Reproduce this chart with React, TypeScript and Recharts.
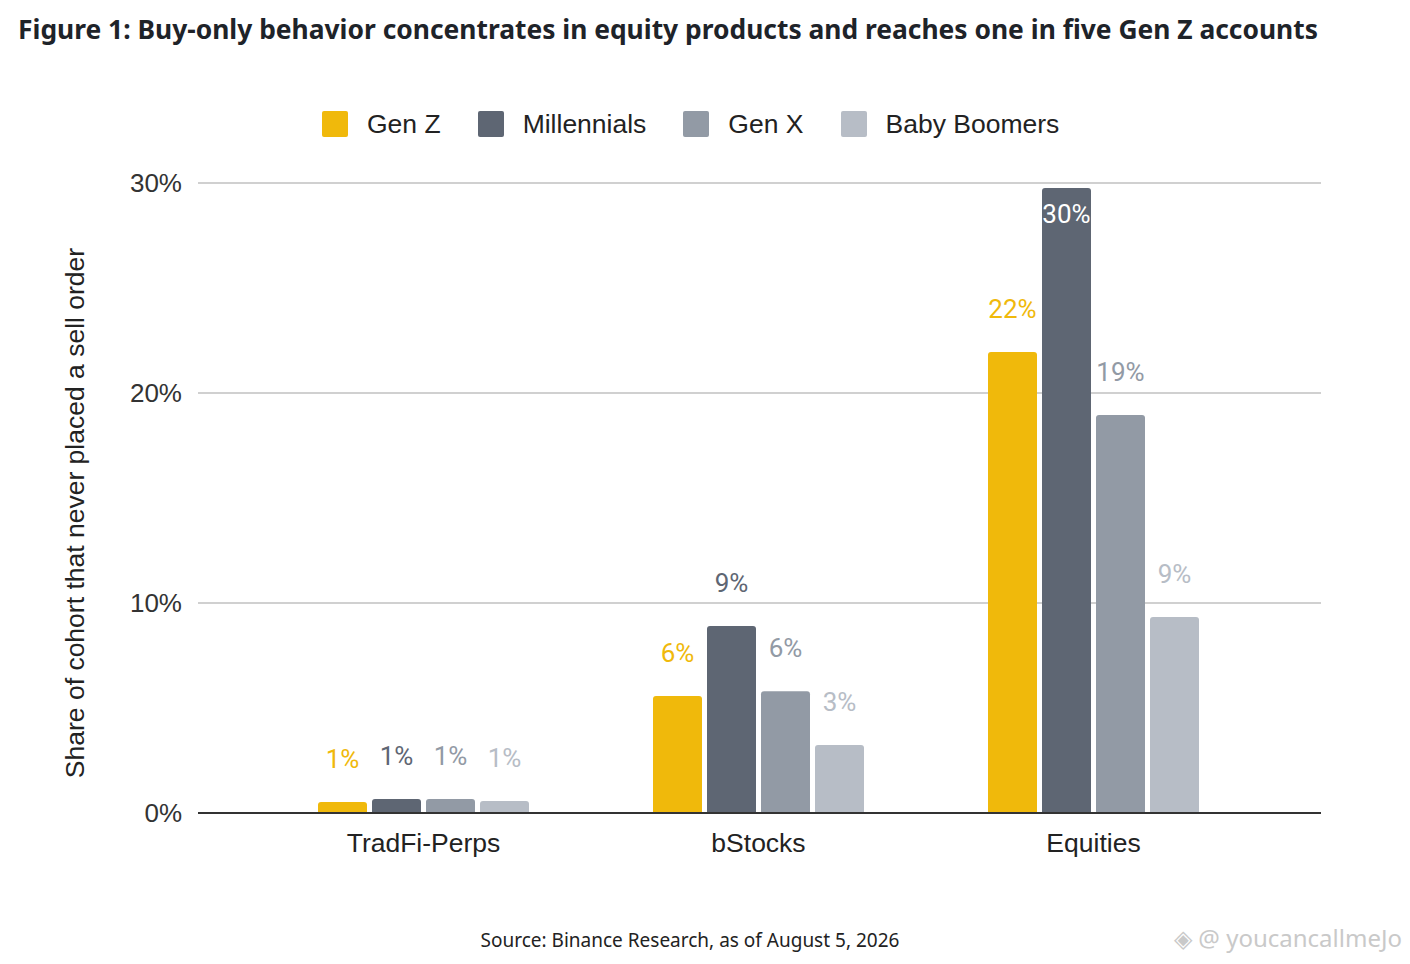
import { BarChart, Bar, XAxis, YAxis, CartesianGrid, LabelList, ReferenceLine } from 'recharts';

const categories = ['TradFi-Perps', 'bStocks', 'Equities'];
const genZ = [0.52, 5.57, 21.95];
const millennials = [0.67, 8.9, 29.76];
const genX = [0.67, 5.8, 18.95];
const boomers = [0.57, 3.24, 9.33];
const yTicks = [0, 10, 20, 30];

const series = [
    { key: 'genZ', name: 'Gen Z', color: '#F0B90B', labelColor: '#F0B90B' },
    { key: 'millennials', name: 'Millennials', color: '#5E6673', labelColor: '#5E6673' },
    { key: 'genX', name: 'Gen X', color: '#929AA5', labelColor: '#929AA5' },
    { key: 'boomers', name: 'Baby Boomers', color: '#B7BDC6', labelColor: '#B7BDC6' },
];

const data = categories.map((name, i) => ({
    name,
    genZ: genZ[i],
    millennials: millennials[i],
    genX: genX[i],
    boomers: boomers[i],
}));

const PLOT_TOP = 183;
const sans = '"Liberation Sans", Arial, sans-serif';

const makeLabel = (color: string) => (props: any) => {
    const { x, y, width, value } = props;
    const cx = x + width / 2;
    let ty = y - 43;
    let fill = color;
    if (ty < PLOT_TOP + 10) {
        // no room above the bar: put the label inside it
        ty = y + 26;
        fill = '#ffffff';
    }
    return (
        <text
            x={cx}
            y={ty}
            textAnchor="middle"
            dominantBaseline="central"
            fill={fill}
            fontSize={26}
            fontFamily="Roboto, sans-serif"
        >
            {`${Math.round(value)}%`}
        </text>
    );
};

const YLabel = (props: any) => {
    const { viewBox } = props;
    const cx = 75;
    const cy = viewBox.y + viewBox.height / 2 + 15;
    return (
        <text
            x={cx}
            y={cy}
            transform={`rotate(-90, ${cx}, ${cy})`}
            textAnchor="middle"
            dominantBaseline="central"
            fontSize={26.5}
            fontFamily={sans}
            fill="#222"
        >
            Share of cohort that never placed a sell order
        </text>
    );
};

export default function App() {
    return (
        <div style={{ position: 'absolute', left: 0, top: 0, width: 1410, height: 964, background: '#fff', fontFamily: sans }}>
            <div
                style={{
                    position: 'absolute',
                    left: 18,
                    top: 11,
                    fontFamily: '"Noto Sans", sans-serif',
                    fontWeight: 700,
                    fontSize: 26.4,
                    color: '#1E2329',
                    whiteSpace: 'nowrap',
                }}
            >
                Figure 1: Buy-only behavior concentrates in equity products and reaches one in five Gen Z accounts
            </div>

            <div style={{ position: 'absolute', left: 322, top: 108, display: 'flex', alignItems: 'center' }}>
                {series.map((s) => (
                    <div key={s.key} style={{ display: 'flex', alignItems: 'center', marginRight: 37 }}>
                        <div style={{ width: 26, height: 26, background: s.color, borderRadius: 2, marginRight: 19 }} />
                        <span style={{ fontSize: 26.5, color: '#222', lineHeight: '32px' }}>{s.name}</span>
                    </div>
                ))}
            </div>

            <div style={{ position: 'absolute', left: 0, top: 0 }}>
                <BarChart
                    width={1410}
                    height={964}
                    data={data}
                    margin={{ top: PLOT_TOP, right: 89, bottom: 111, left: 138 }}
                    barCategoryGap={62}
                    barGap={5}
                >
                    <CartesianGrid vertical={false} stroke="#d0d0d0" strokeWidth={2} />
                    <XAxis
                        dataKey="name"
                        height={40}
                        padding={{ left: 58, right: 60 }}
                        axisLine={false}
                        tickLine={false}
                        tick={{ fill: '#222', fontSize: 26.5, fontFamily: sans }}
                        tickMargin={14}
                    />
                    <YAxis
                        width={60}
                        domain={[0, 30]}
                        ticks={yTicks}
                        tickFormatter={(v) => `${v}%`}
                        axisLine={false}
                        tickLine={false}
                        tick={{ fill: '#333', fontSize: 26, fontFamily: sans }}
                        tickMargin={10}
                        label={<YLabel />}
                    />
                    {series.map((s) => (
                        <Bar
                            key={s.key}
                            dataKey={s.key}
                            name={s.name}
                            fill={s.color}
                            radius={[3, 3, 0, 0]}
                            isAnimationActive={false}
                        >
                            <LabelList dataKey={s.key} content={makeLabel(s.labelColor)} />
                        </Bar>
                    ))}
                    <ReferenceLine y={0} stroke="#333" strokeWidth={2} />
                </BarChart>
            </div>

            <div
                style={{
                    position: 'absolute',
                    left: 0,
                    width: 1380,
                    top: 927,
                    textAlign: 'center',
                    fontFamily: '"Noto Sans", sans-serif',
                    fontSize: 19,
                    color: '#222',
                }}
            >
                Source: Binance Research, as of August 5, 2026
            </div>
            <div
                style={{
                    position: 'absolute',
                    right: 8,
                    top: 921,
                    fontFamily: '"Noto Sans", sans-serif',
                    fontSize: 24,
                    color: '#c9c9c9',
                }}
            >
                ◈ @ youcancallmeJo
            </div>
        </div>
    );
}
